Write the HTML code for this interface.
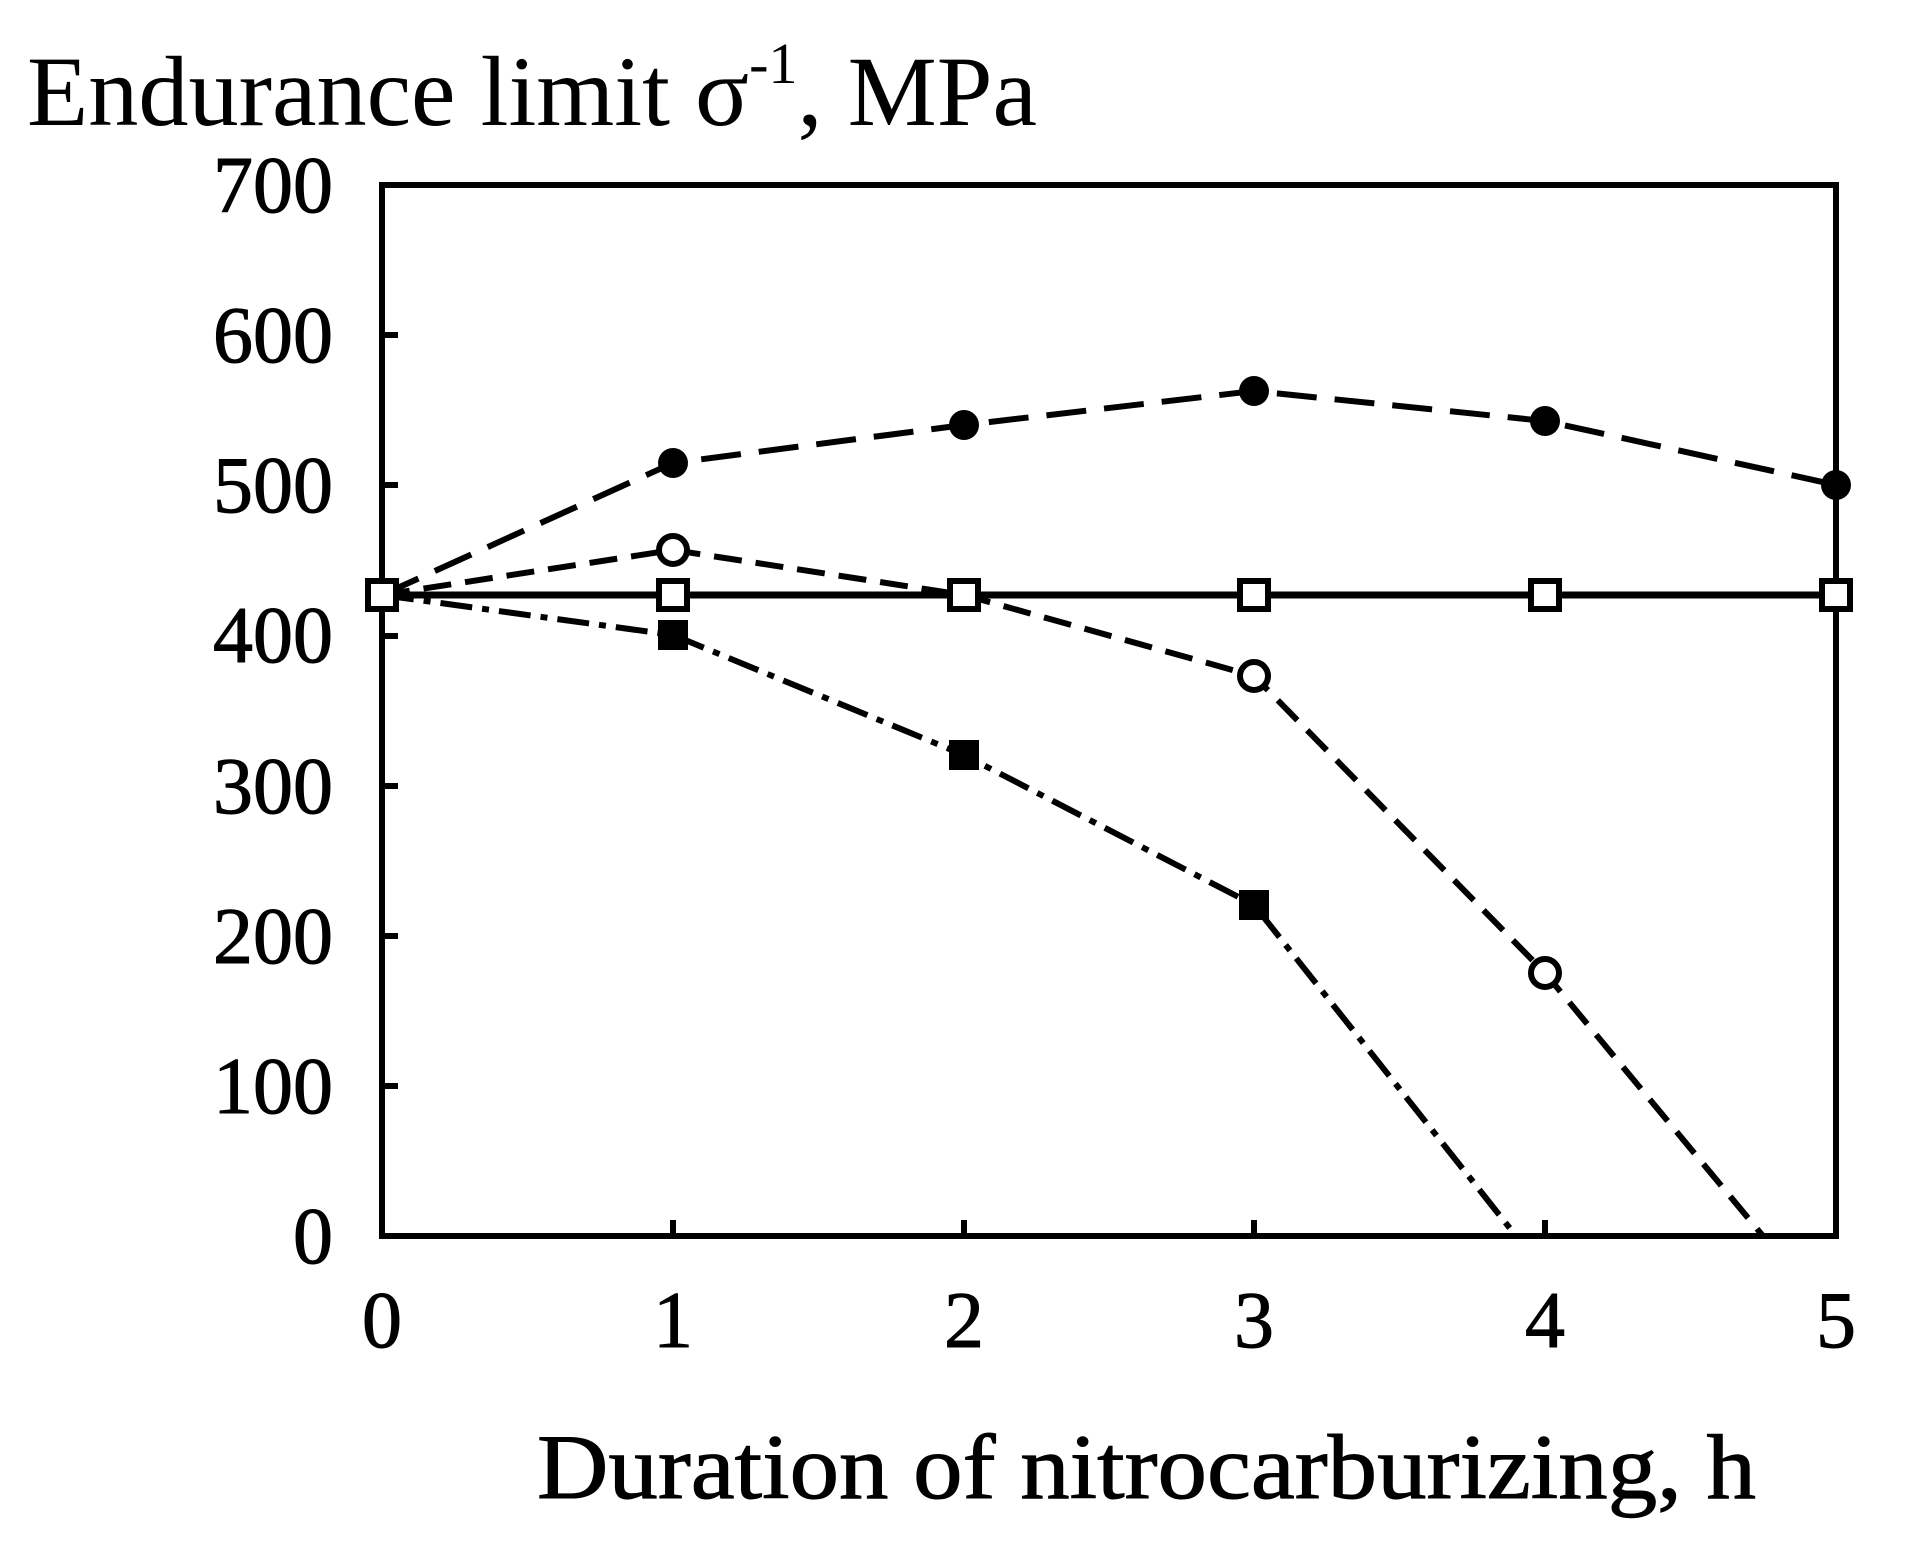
<!DOCTYPE html>
<html><head><style>body{margin:0;background:#fff}svg{display:block}</style></head><body>
<svg width="1913" height="1542" viewBox="0 0 1913 1542" xmlns="http://www.w3.org/2000/svg" font-family="Liberation Serif, serif">
<rect width="1913" height="1542" fill="#fff"/>
<text x="27" y="125" font-size="100" textLength="1010" lengthAdjust="spacingAndGlyphs">Endurance limit σ<tspan dy="-42" font-size="58">-1</tspan><tspan dy="42">, MPa</tspan></text>
<g font-size="80" text-anchor="end" stroke="#000" stroke-width="1">
<text x="333" y="212">700</text><text x="333" y="362">600</text><text x="333" y="512">500</text><text x="333" y="662">400</text><text x="333" y="813">300</text><text x="333" y="963">200</text><text x="333" y="1113">100</text><text x="333" y="1263">0</text>
</g>
<g font-size="80" text-anchor="middle" stroke="#000" stroke-width="1">
<text x="382" y="1347">0</text><text x="673" y="1347">1</text><text x="964" y="1347">2</text><text x="1254" y="1347">3</text><text x="1545" y="1347">4</text><text x="1836" y="1347">5</text>
</g>
<text x="537" y="1498" font-size="92" textLength="1219" lengthAdjust="spacingAndGlyphs" stroke="#000" stroke-width="1">Duration of nitrocarburizing, h</text>
<rect x="382" y="185" width="1454" height="1051" fill="none" stroke="#000" stroke-width="6"/>
<g stroke="#000" stroke-width="6">
<line x1="382" y1="335" x2="398" y2="335"/><line x1="382" y1="485" x2="398" y2="485"/><line x1="382" y1="636" x2="398" y2="636"/><line x1="382" y1="786" x2="398" y2="786"/><line x1="382" y1="936" x2="398" y2="936"/><line x1="382" y1="1086" x2="398" y2="1086"/>
<line x1="673" y1="1236" x2="673" y2="1220"/><line x1="964" y1="1236" x2="964" y2="1220"/><line x1="1254" y1="1236" x2="1254" y2="1220"/><line x1="1545" y1="1236" x2="1545" y2="1220"/>
</g>
<polyline points="382,595 673,463 964,425 1254,391 1545,421 1836,485" fill="none" stroke="#000" stroke-width="6" stroke-dasharray="40,18"/>
<polyline points="382,595 673,550 964,595 1254,676 1545,973 1763,1236" fill="none" stroke="#000" stroke-width="6" stroke-dasharray="28,14"/>
<polyline points="382,595 673,635 964,755 1254,905 1516,1236" fill="none" stroke="#000" stroke-width="6" stroke-dasharray="32,10,7,10"/>
<line x1="382" y1="595" x2="1836" y2="595" stroke="#000" stroke-width="7"/>
<g fill="#000">
<circle cx="673" cy="463" r="15"/><circle cx="964" cy="425" r="15"/><circle cx="1254" cy="391" r="15"/><circle cx="1545" cy="421" r="15"/><circle cx="1836" cy="485" r="15"/>
<rect x="658" y="620" width="30" height="30"/><rect x="949" y="740" width="30" height="30"/><rect x="1239" y="890" width="30" height="30"/>
</g>
<g fill="#fff" stroke="#000" stroke-width="6">
<circle cx="673" cy="550" r="14"/><circle cx="1254" cy="676" r="14"/><circle cx="1545" cy="973" r="14"/>
<rect x="368" y="581" width="28" height="28"/><rect x="659" y="581" width="28" height="28"/><rect x="950" y="581" width="28" height="28"/><rect x="1240" y="581" width="28" height="28"/><rect x="1531" y="581" width="28" height="28"/><rect x="1822" y="581" width="28" height="28"/>
</g>
</svg>
</body></html>
